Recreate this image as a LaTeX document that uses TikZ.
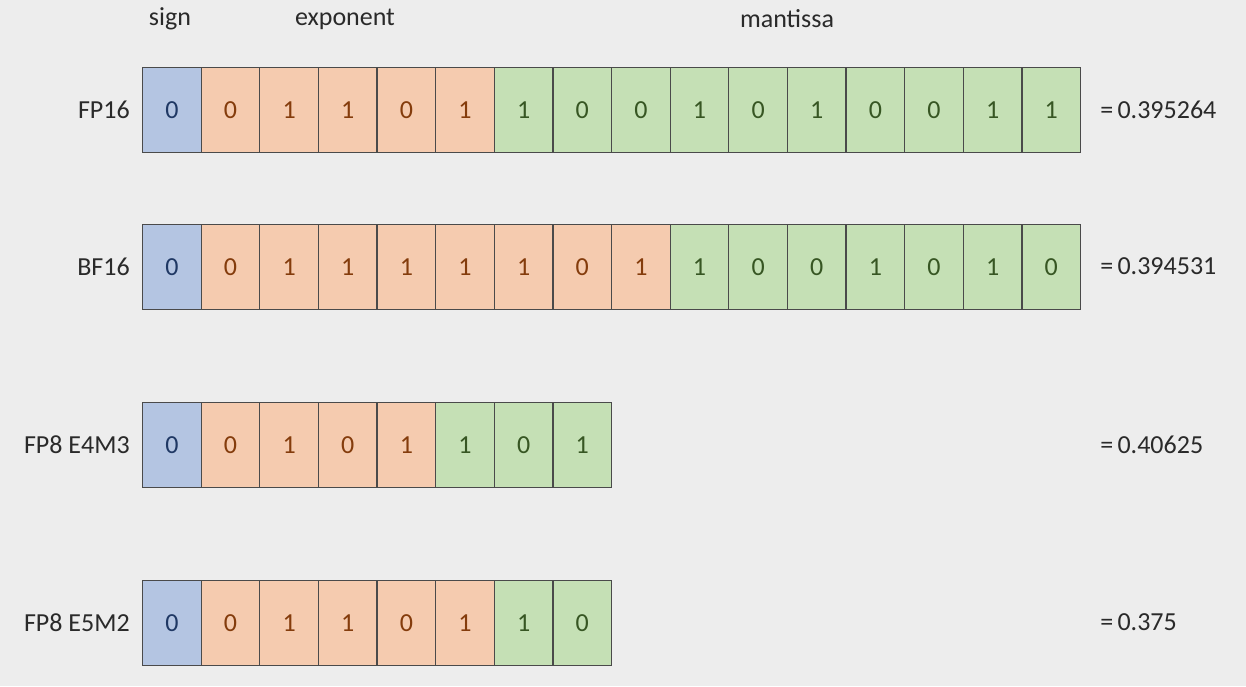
\documentclass[tikz,border=0pt]{standalone}
\usepackage{fontspec}
\setmainfont{Carlito}
\definecolor{bg}{HTML}{EDEDED}
\definecolor{sfill}{HTML}{B4C5E2}
\definecolor{efill}{HTML}{F5CBAF}
\definecolor{mfill}{HTML}{C5E0B5}
\definecolor{stext}{HTML}{1F3864}
\definecolor{etext}{HTML}{843C0C}
\definecolor{mtext}{HTML}{375623}
\definecolor{edge}{HTML}{4A4A4A}
\definecolor{lbl}{HTML}{2A2A2A}
\tikzset{
  bitbase/.style={draw=edge, line width=0.9pt, minimum width=58.6*0.75pt, minimum height=85*0.75pt, inner sep=0pt, anchor=north west, font=\fontsize{19.5}{22}\selectfont},
  bitS/.style={bitbase, fill=sfill, text=stext},
  bitE/.style={bitbase, fill=efill, text=etext},
  bitM/.style={bitbase, fill=mfill, text=mtext},
  rowlbl/.style={anchor=east, text=lbl, font=\fontsize{19.5}{22}\selectfont, inner sep=0pt},
  reslbl/.style={anchor=west, text=lbl, font=\fontsize{19.5}{22}\selectfont, inner sep=0pt},
  headlbl/.style={text=lbl, font=\fontsize{19.5}{22}\selectfont, inner sep=0pt}
}
\begin{document}
\begin{tikzpicture}[x=0.75pt,y=-0.75pt]
\fill[bg] (0,0) rectangle (1246,686);
\useasboundingbox (0,0) rectangle (1246,686);
% headers
\node[headlbl] (hsign) at (170,19) {sign};
\node[headlbl] (hexp) at (345,19) {exponent};
\node[headlbl] (hman) at (787,19) {mantissa};
% FP16
\foreach \t/\b [count=\i from 0] in {S/0,E/0,E/1,E/1,E/0,E/1,M/1,M/0,M/0,M/1,M/0,M/1,M/0,M/0,M/1,M/1}
  \node[bit\t] (ra\i) at ({142+\i*58.625},67) {\b};
\node[rowlbl] (la) at (130,109.5) {FP16};
\node[reslbl] (va) at (1100,109.5) {=\,0.395264};
% BF16
\foreach \t/\b [count=\i from 0] in {S/0,E/0,E/1,E/1,E/1,E/1,E/1,E/0,E/1,M/1,M/0,M/0,M/1,M/0,M/1,M/0}
  \node[bit\t] (rb\i) at ({142+\i*58.625},224) {\b};
\node[rowlbl] (lb) at (130,266.5) {BF16};
\node[reslbl] (vb) at (1100,266.5) {=\,0.394531};
% FP8 E4M3
\foreach \t/\b [count=\i from 0] in {S/0,E/0,E/1,E/0,E/1,M/1,M/0,M/1}
  \node[bit\t] (rc\i) at ({142+\i*58.625},402) {\b};
\node[rowlbl] (lc) at (130,444.5) {FP8 E4M3};
\node[reslbl] (vc) at (1100,444.5) {=\,0.40625};
% FP8 E5M2
\foreach \t/\b [count=\i from 0] in {S/0,E/0,E/1,E/1,E/0,E/1,M/1,M/0}
  \node[bit\t] (rd\i) at ({142+\i*58.625},580) {\b};
\node[rowlbl] (ld) at (130,622.5) {FP8 E5M2};
\node[reslbl] (vd) at (1100,622.5) {=\,0.375};
\end{tikzpicture}
\end{document}
